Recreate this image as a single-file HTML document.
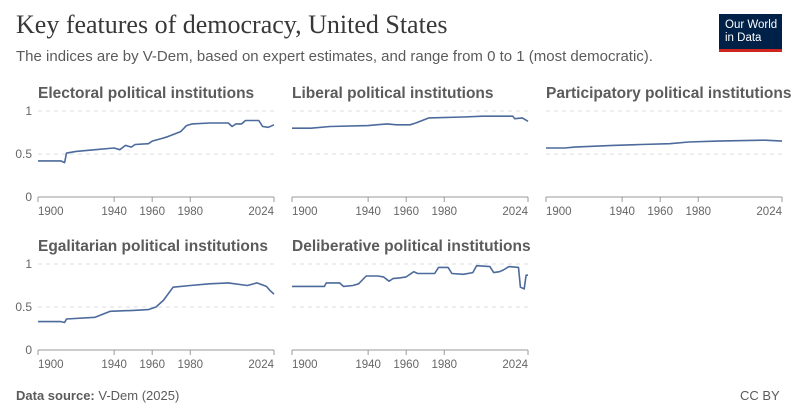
<!DOCTYPE html>
<html><head><meta charset="utf-8"><style>
body{margin:0;width:800px;height:418px;background:#fff;font-family:"Liberation Sans",sans-serif;overflow:hidden;position:relative}
.t{position:absolute;white-space:nowrap}
</style></head><body>
<div class="t" style="left:16px;top:10px;font-family:'Liberation Serif',serif;font-size:26px;color:#383838">Key features of democracy, United States</div>
<div class="t" style="left:16px;top:48px;font-size:15px;color:#5b5b5b">The indices are by V-Dem, based on expert estimates, and range from 0 to 1 (most democratic).</div>
<div style="position:absolute;left:719px;top:14px;width:63px;height:38px;background:#002147;border-bottom:3px solid #ce261e;box-sizing:border-box;color:#fff;font-size:11.5px;line-height:13px;padding:5px 0 0 6px">Our World<br>in Data</div>
<svg id="c" width="800" height="418" style="position:absolute;left:0;top:0"></svg>
<div class="t" style="left:16px;top:388px;font-size:13px;color:#5b5b5b"><b>Data source:</b> V-Dem (2025)</div>
<div class="t" style="left:740px;top:388px;font-size:13px;color:#5b5b5b">CC BY</div>
<script>
const titles=["Electoral political institutions","Liberal political institutions","Participatory political institutions","Egalitarian political institutions","Deliberative political institutions"];
const xTicks=[1900,1940,1960,1980,2024];
const yTicks=[0,0.5,1];
const electoralYears=[1900,1912,1914,1915,1920,1930,1940,1943,1946,1949,1951,1958,1960,1965,1968,1975,1978,1981,1990,2000,2002,2004,2007,2009,2016,2018,2021,2024];
const electoralVals=[0.42,0.42,0.40,0.51,0.53,0.55,0.57,0.55,0.60,0.58,0.61,0.62,0.65,0.68,0.70,0.76,0.83,0.85,0.86,0.86,0.82,0.85,0.85,0.89,0.89,0.82,0.81,0.84];
const liberalYears=[1900,1910,1920,1940,1950,1955,1962,1965,1972,1990,2000,2016,2017,2021,2024];
const liberalVals=[0.80,0.80,0.82,0.83,0.85,0.84,0.84,0.86,0.92,0.93,0.94,0.94,0.91,0.92,0.88];
const partYears=[1900,1910,1915,1935,1950,1965,1975,1990,2015,2024];
const partVals=[0.57,0.57,0.58,0.60,0.61,0.62,0.64,0.65,0.66,0.65];
const egalYears=[1900,1912,1914,1915,1930,1938,1950,1958,1962,1966,1971,1980,1990,2000,2010,2015,2020,2022,2024];
const egalVals=[0.33,0.33,0.32,0.36,0.38,0.45,0.46,0.47,0.50,0.58,0.73,0.75,0.77,0.78,0.75,0.78,0.74,0.69,0.65];
const delibYears=[1900,1917,1918,1925,1927,1932,1935,1939,1945,1948,1951,1953,1957,1960,1964,1966,1975,1977,1982,1984,1990,1995,1997,2004,2006,2009,2011,2014,2019,2020,2022,2023,2024];
const delibVals=[0.74,0.74,0.78,0.78,0.74,0.75,0.77,0.86,0.86,0.85,0.80,0.83,0.84,0.85,0.91,0.89,0.89,0.96,0.96,0.89,0.88,0.90,0.98,0.97,0.90,0.91,0.93,0.97,0.96,0.73,0.71,0.87,0.87];
const series=[[electoralYears,electoralVals],[liberalYears,liberalVals],[partYears,partVals],[egalYears,egalVals],[delibYears,delibVals]];
const svg=document.getElementById('c');const NS='http://www.w3.org/2000/svg';
function mk(tag,attrs,txt){const e=document.createElementNS(NS,tag);for(const k in attrs)e.setAttribute(k,attrs[k]);if(txt!==undefined)e.textContent=txt;svg.appendChild(e);return e;}
series.forEach((s,i)=>{
 const col=i%3,row=Math.floor(i/3);
 const x0=38+col*254,x1=x0+236;
 const yTop=row?264:111,yBot=row?350:197;
 const X=y=>x0+(y-1900)/124*236;
 const Y=v=>yBot-v*(yBot-yTop);
 let e=mk('text',{x:x0,y:yTop-13,'font-size':15.5,'font-weight':'bold',fill:'#5b5b5b'},titles[i]);
 
 yTicks.forEach(v=>{
  if(v>0){e=mk('line',{x1:x0,x2:x1,y1:Y(v),y2:Y(v),stroke:'#ddd','stroke-dasharray':'4,4'});}
  if(col===0){e=mk('text',{x:x0-6,y:Y(v)+4,'font-size':12,fill:'#666','text-anchor':'end'},String(v));}
 });
 e=mk('line',{x1:x0,x2:x1,y1:yBot,y2:yBot,stroke:'#999'});
 xTicks.forEach((t,k)=>{
  e=mk('line',{x1:X(t),x2:X(t),y1:yBot,y2:yBot+5,stroke:'#999'});
  const anc=k===0?'start':(k===xTicks.length-1?'end':'middle');
  e=mk('text',{x:X(t),y:yBot+18,'font-size':11.5,fill:'#666','text-anchor':anc},String(t));
 });
 const d=s[0].map((yr,j)=>(j?'L':'M')+X(yr).toFixed(1)+','+Y(s[1][j]).toFixed(1)).join('');
 e=mk('path',{d:d,fill:'none',stroke:'#4c6a9c','stroke-width':1.6,'stroke-linejoin':'round'});
 
});
</script>
</body></html>
